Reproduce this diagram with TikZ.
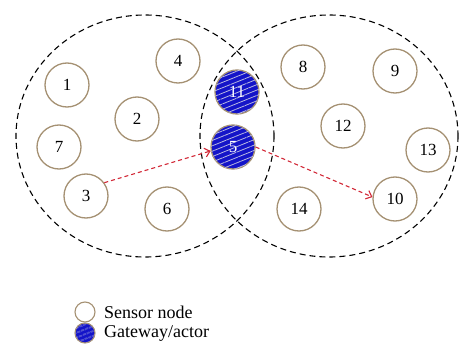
\documentclass[tikz,border=0pt]{standalone}
\usepackage{fontspec}
\setmainfont{Liberation Serif}
\usetikzlibrary{arrows.meta,patterns.meta}
\definecolor{tan}{RGB}{165,145,115}
\definecolor{gwblue}{RGB}{20,20,200}
\definecolor{hatch}{RGB}{185,185,225}
\definecolor{arrred}{RGB}{210,40,55}
\tikzset{
  sensor/.style={circle, draw=tan, line width=1.3pt, minimum size=44pt, inner sep=0pt, font=\fontsize{17}{17}\selectfont},
  gateway/.style={sensor, fill=gwblue, text=white,
    postaction={pattern={Lines[angle=22,distance=5pt,line width=0.8pt]}, pattern color=hatch}},
  region/.style={draw=black, dashed, dash pattern=on 6pt off 4pt, line width=1.1pt},
  msg/.style={draw=arrred, line width=1.1pt, dash pattern=on 4pt off 3pt, -{Straight Barb[length=5pt,width=9pt]}},
  legsensor/.style={circle, draw=tan, line width=1.1pt, minimum size=20pt, inner sep=0pt},
  leggw/.style={legsensor, fill=gwblue,
    postaction={pattern={Lines[angle=22,distance=4pt,line width=0.7pt]}, pattern color=hatch}},
  legtext/.style={anchor=west, inner sep=0pt, font=\fontsize{18}{18}\selectfont}
}
\begin{document}
\begin{tikzpicture}[x=1pt,y=-1pt]
\useasboundingbox (0,0) rectangle (474,361);
\draw[region] (145,136) ellipse [x radius=129, y radius=121];
\draw[region] (329,136) ellipse [x radius=129, y radius=121];
\node[sensor] (n1) at (67,85) {1};
\node[sensor] (n4) at (178,61) {4};
\node[sensor] (n2) at (137,119) {2};
\node[sensor] (n7) at (59,147) {7};
\node[sensor] (n3) at (86,196) {3};
\node[sensor] (n6) at (167,209) {6};
\node[gateway] (n11) at (237,92) {11};
\node[gateway] (n5) at (233,147) {5};
\node[sensor] (n8) at (303,67) {8};
\node[sensor] (n9) at (395,71) {9};
\node[sensor] (n12) at (343,126) {12};
\node[sensor] (n13) at (428,150) {13};
\node[sensor] (n10) at (395,199) {10};
\node[sensor] (n14) at (299,209) {14};
\draw[msg] (n3.36) -- (n5.190);
\draw[msg] (n5.0) -- (n10.175);
\node[legsensor] (ls) at (85,312) {};
\node[leggw] (lg) at (85,333) {};
\node[legtext] (lst) at (104,312) {Sensor node};
\node[legtext] (lgt) at (104,333) {Gateway/actor};
\end{tikzpicture}
\end{document}
